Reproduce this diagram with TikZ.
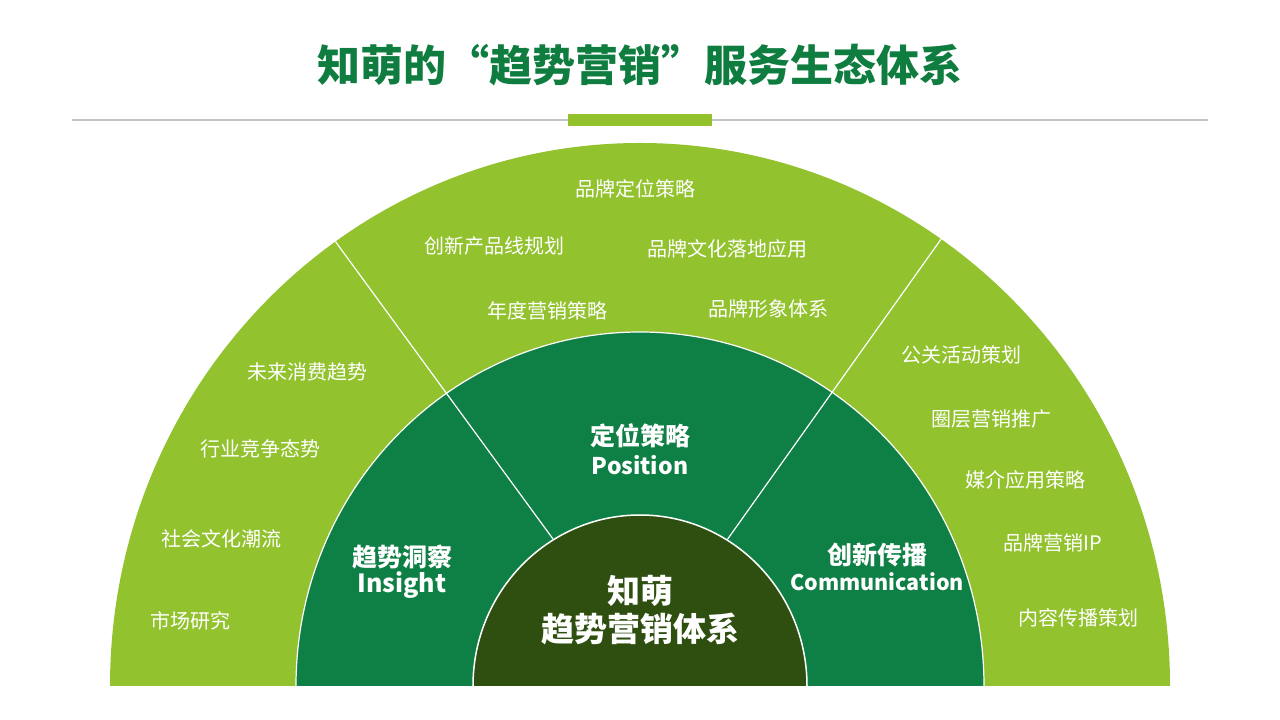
\documentclass[tikz,border=0pt]{standalone}
\usepackage{fontspec}
\setmainfont{Noto Sans CJK SC}
\definecolor{lightg}{HTML}{93C22F}
\definecolor{midg}{HTML}{0E7F45}
\definecolor{darkg}{HTML}{2E4F10}
\definecolor{titleg}{HTML}{0F7D40}
\definecolor{grayline}{HTML}{C3C6C6}
\definecolor{barg}{HTML}{92C12C}
\begin{document}
\begin{tikzpicture}[x=1pt,y=1pt,
  outerlbl/.style={text=white,font=\fontsize{20}{23}\selectfont,inner sep=0pt},
  midlbl/.style={text=white,font=\bfseries\fontsize{25}{28}\selectfont,inner sep=0pt},
  midlat/.style={text=white,font=\bfseries\fontsize{23}{26}\selectfont,inner sep=0pt},
  innerlbl/.style={text=white,font=\bfseries\fontsize{33}{38}\selectfont,inner sep=0pt}]
\useasboundingbox (0,0) rectangle (1280,720);
\fill[white] (0,0) rectangle (1280,720);
% title
\node[text=titleg,font=\bfseries\fontsize{43}{50}\selectfont,inner sep=0pt] (title) at (640,655) {知萌的“趋势营销”服务生态体系};
\draw[grayline,line width=2pt] (72,600) -- (1208,600);
\fill[barg] (568,594) rectangle (712,606);
% outer ring
\coordinate (c) at (640,34);
\fill[lightg] (110,34) arc[start angle=180,end angle=0,x radius=530,y radius=543] -- cycle;
\begin{scope}
\clip (110,34) arc[start angle=180,end angle=0,x radius=530,y radius=543] -- cycle;
\coordinate (l1) at (553,181);
\coordinate (l2) at (327,490);
\coordinate (r1) at (727,180);
\coordinate (r2) at (949,492);
\draw[white,line width=1.2pt] (l1) -- (l2);
\draw[white,line width=1.2pt] (r1) -- (r2);
\end{scope}
% middle ring
\begin{scope}
\clip (296,34) arc[start angle=180,end angle=0,x radius=344,y radius=354] -- cycle;
\fill[midg] (296,34) arc[start angle=180,end angle=0,x radius=344,y radius=354] -- cycle;
\draw[white,line width=1.2pt] (l1) -- (l2);
\draw[white,line width=1.2pt] (r1) -- (r2);
\end{scope}
\draw[white,line width=1.2pt] (296,34) arc[start angle=180,end angle=0,x radius=344,y radius=354];
% inner
\fill[darkg] (473,34) arc[start angle=180,end angle=0,x radius=167,y radius=171] -- cycle;
\draw[white,line width=1.5pt] (473,34) arc[start angle=180,end angle=0,x radius=167,y radius=171];
% outer labels
\node[outerlbl] (o1) at (635,531) {品牌定位策略};
\node[outerlbl] (o2) at (494,474) {创新产品线规划};
\node[outerlbl] (o3) at (727,471) {品牌文化落地应用};
\node[outerlbl] (o4) at (547,409) {年度营销策略};
\node[outerlbl] (o5) at (768,411) {品牌形象体系};
\node[outerlbl] (o6) at (307,348) {未来消费趋势};
\node[outerlbl] (o7) at (260,271) {行业竞争态势};
\node[outerlbl] (o8) at (221,181) {社会文化潮流};
\node[outerlbl] (o9) at (190,99) {市场研究};
\node[outerlbl] (o10) at (961,365) {公关活动策划};
\node[outerlbl] (o11) at (991,301) {圈层营销推广};
\node[outerlbl] (o12) at (1025,240) {媒介应用策略};
\node[outerlbl] (o13) at (1053,177) {品牌营销IP};
\node[outerlbl] (o14) at (1078,102) {内容传播策划};
% middle labels
\node[midlbl] (m1) at (640,284) {定位策略};
\node[midlat] (m1e) at (640,255) {Position};
\node[midlbl] (m2) at (402,163) {趋势洞察};
\node[midlat,font=\bfseries\fontsize{25}{28}\selectfont] (m2e) at (402,135) {Insight};
\node[midlbl] (m3) at (877,165) {创新传播};
\node[midlat,font=\bfseries\fontsize{21.5}{26}\selectfont] (m3e) at (877,138) {Communication};
% inner labels
\node[innerlbl] (i1) at (640,129) {知萌};
\node[innerlbl] (i2) at (640,91) {趋势营销体系};
\end{tikzpicture}
\end{document}
